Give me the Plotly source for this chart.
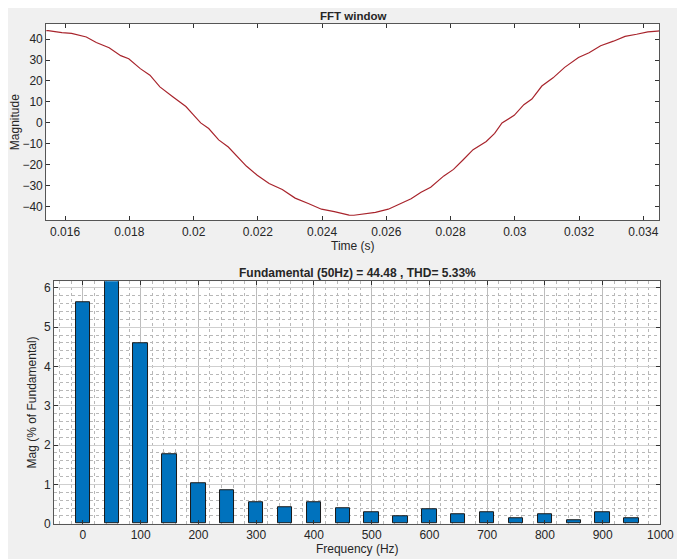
import plotly.graph_objects as go

# --- top panel: FFT window ---
time_s = [0.01541, 0.01547, 0.0159, 0.0162, 0.01666, 0.01697, 0.01737, 0.01773, 0.01798,
          0.01834, 0.01864, 0.01895, 0.01935, 0.01976, 0.01998, 0.02022, 0.02047, 0.02078,
          0.02108, 0.02134, 0.02164, 0.02198, 0.02235, 0.02276, 0.02316, 0.02357, 0.02398,
          0.02438, 0.02484, 0.02499, 0.02535, 0.02566, 0.02606, 0.02637, 0.02677, 0.02708,
          0.02738, 0.02779, 0.02809, 0.0284, 0.0287, 0.02911, 0.02937, 0.0296, 0.02998,
          0.03028, 0.03053, 0.03084, 0.03119, 0.03155, 0.03198, 0.03231, 0.03267, 0.03307,
          0.03343, 0.03379, 0.03414, 0.03444, 0.0345]
magnitude = [44.0, 44.0, 43.1, 42.7, 41.0, 38.4, 35.9, 32.1, 30.6,
             25.9, 22.8, 17.2, 12.5, 7.8, 4.1, 0.0, -2.7, -8.1,
             -11.5, -15.9, -20.6, -25.0, -28.9, -31.8, -35.9, -38.5, -41.2,
             -42.4, -44.0, -44.1, -43.2, -42.7, -41.2, -39.0, -36.2, -33.1,
             -30.7, -25.3, -22.2, -17.5, -12.8, -8.9, -5.0, 0.0, 3.6,
             8.7, 11.4, 17.6, 21.5, 26.5, 31.2, 33.5, 36.8, 39.0,
             41.3, 42.3, 43.4, 43.8, 43.9]
time_ticks = [0.016, 0.018, 0.020, 0.022, 0.024, 0.026, 0.028, 0.030, 0.032, 0.034]
time_labels = ["0.016", "0.018", "0.02", "0.022", "0.024", "0.026", "0.028", "0.03", "0.032", "0.034"]
mag_ticks = [-40, -30, -20, -10, 0, 10, 20, 30, 40]

# --- bottom panel: harmonic spectrum ---
freq_hz = [0, 50, 100, 150, 200, 250, 300, 350, 400, 450,
           500, 550, 600, 650, 700, 750, 800, 850, 900, 950]
mag_pct = [5.63, 100.0, 4.60, 1.76, 1.04, 0.86, 0.54, 0.42, 0.54, 0.39,
           0.29, 0.19, 0.37, 0.24, 0.29, 0.14, 0.24, 0.10, 0.29, 0.13]
freq_ticks = [0, 100, 200, 300, 400, 500, 600, 700, 800, 900, 1000]
pct_ticks = [0, 1, 2, 3, 4, 5, 6]

FONT = "Liberation Sans, Arial, sans-serif"
INK = "#262626"

fig = go.Figure()

fig.add_trace(go.Scatter(
    x=time_s, y=magnitude, mode="lines",
    line=dict(color="#A8242C", width=1.2),
    xaxis="x", yaxis="y", showlegend=False,
))

fig.add_trace(go.Bar(
    x=freq_hz, y=mag_pct, width=25,
    marker=dict(color="#0072BD", line=dict(color="#1a1a1a", width=1)),
    xaxis="x2", yaxis="y2", showlegend=False,
))

axis_common = dict(
    showline=True, mirror="ticks", linecolor="#555555", linewidth=1,
    ticks="inside", ticklen=4, tickcolor="#333333",
    tickfont=dict(family=FONT, size=12, color=INK),
    zeroline=False,
)

fig.update_layout(
    width=685, height=559,
    margin=dict(l=0, r=0, t=0, b=0),
    paper_bgcolor="#f0f0f0",
    plot_bgcolor="white",
    font=dict(family=FONT, color=INK),
    bargap=0,
    xaxis=dict(
        domain=[0.0569, 0.9708], anchor="y",
        range=[0.01541, 0.0345],
        tickvals=time_ticks, ticktext=time_labels,
        showgrid=False,
        title=dict(text="Time (s)", font=dict(size=12), standoff=0),
        **axis_common,
    ),
    yaxis=dict(
        domain=[0.6154, 0.971], anchor="x",
        range=[-46.5, 47.2],
        tickvals=mag_ticks,
        showgrid=False,
        title=dict(text="Magnitude", font=dict(size=12), standoff=2),
        **axis_common,
    ),
    xaxis2=dict(
        domain=[0.0686, 0.9723], anchor="y2",
        range=[-50, 1000],
        tickvals=freq_ticks,
        showgrid=True, gridcolor="#bdbdbd", gridwidth=1,
        minor=dict(dtick=20, tick0=0, showgrid=True, gridcolor="#b8b8b8",
                   griddash="dot", gridwidth=1),
        title=dict(text="Frequency (Hz)", font=dict(size=12), standoff=0),
        **axis_common,
    ),
    yaxis2=dict(
        domain=[0.0657, 0.505], anchor="x2",
        range=[0, 6.17],
        tickvals=pct_ticks,
        showgrid=True, gridcolor="#cfcfcf", gridwidth=1,
        minor=dict(dtick=0.2, tick0=0, showgrid=True, gridcolor="#b8b8b8",
                   griddash="dot", gridwidth=1),
        title=dict(text="Mag (% of Fundamental)", font=dict(size=12), standoff=4),
        **axis_common,
    ),
    annotations=[
        dict(text="<b>FFT window</b>", x=0.5139, y=0.9725, xref="paper", yref="paper",
             xanchor="center", yanchor="bottom", showarrow=False, borderpad=0,
             font=dict(family=FONT, size=11.5, color=INK)),
        dict(text="<b>Fundamental (50Hz) = 44.48 , THD= 5.33%</b>", x=0.5204, y=0.506,
             xref="paper", yref="paper", xanchor="center", yanchor="bottom",
             showarrow=False, borderpad=0, font=dict(family=FONT, size=12, color=INK)),
    ],
)

fig.write_html("out.html")
